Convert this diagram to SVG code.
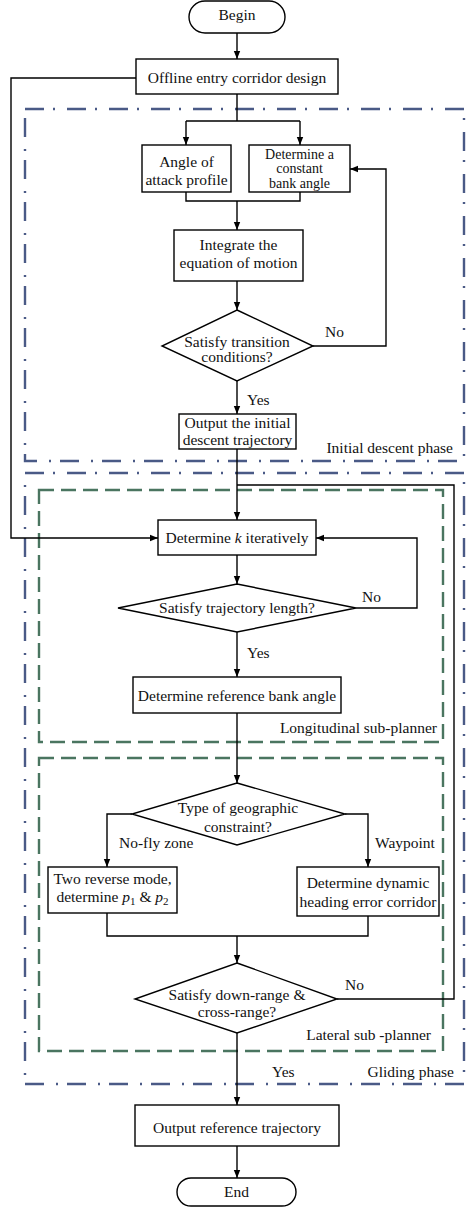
<svg xmlns="http://www.w3.org/2000/svg" width="474" height="1218" viewBox="0 0 474 1218">
<defs>
<marker id="ah" viewBox="0 0 10 10" refX="10" refY="5" markerWidth="8" markerHeight="8" markerUnits="userSpaceOnUse" orient="auto">
<path d="M0,1 L10,5 L0,9 z" fill="#000"/>
</marker>
<style>
.n{fill:#fff;stroke:#000;stroke-width:1.4}
.t{font-family:"Liberation Serif","Times New Roman",serif;font-size:15.5px;fill:#111;text-anchor:middle}
.s{font-size:14px}
.l{font-family:"Liberation Serif","Times New Roman",serif;font-size:15.5px;fill:#111}
.c{fill:none;stroke:#000;stroke-width:1.4}
.a{marker-end:url(#ah)}
.blue{fill:none;stroke:#4a5a86;stroke-width:2.4;stroke-dasharray:19 9 2 12}
.green{fill:none;stroke:#4a7560;stroke-width:2.4;stroke-dasharray:15 7}
</style>
</defs>
<rect width="474" height="1218" fill="#fff"/>
<g id="regions">
<rect class="blue" x="25" y="109" width="439" height="352"/>
<rect class="blue" x="25" y="473" width="439" height="611"/>
<rect class="green" x="39" y="490" width="404" height="252"/>
<rect class="green" x="39" y="758" width="404" height="293"/>
<text class="l" x="453" y="453" text-anchor="end">Initial descent phase</text>
<text class="l" x="437" y="733" text-anchor="end">Longitudinal sub-planner</text>
<text class="l" x="431" y="1040" text-anchor="end">Lateral sub -planner</text>
<text class="l" x="454" y="1077" text-anchor="end">Gliding phase</text>
</g>
<g id="connectors">
<path class="c a" d="M237,33 V59"/>
<path class="c a" d="M136,78 H11 V538 H158"/>
<path class="c" d="M237,94 V121 M186,121 H300"/>
<path class="c a" d="M186,121 V145"/>
<path class="c a" d="M300,121 V145"/>
<path class="c" d="M186,192 V201 H300 V192"/>
<path class="c a" d="M237,201 V230"/>
<path class="c a" d="M237,281 V310"/>
<path class="c a" d="M313,346 H386 V169 H350"/>
<path class="c a" d="M237,381 V414"/>
<path class="c a" d="M237,449 V520"/>
<path class="c" d="M337,999 H454 V485 H237"/>
<path class="c a" d="M237,555 V584"/>
<path class="c a" d="M356,608 H417 V538 H316"/>
<path class="c a" d="M237,632 V677"/>
<path class="c a" d="M237,713 V783"/>
<path class="c a" d="M132,814 H107 V867"/>
<path class="c a" d="M345,814 H368 V867"/>
<path class="c" d="M107,913 V936 H368 V916"/>
<path class="c a" d="M237,936 V963"/>
<path class="c a" d="M237,1033 V1105"/>
<path class="c a" d="M237,1146 V1178"/>
<text class="l" x="325" y="337">No</text>
<text class="l" x="247" y="405">Yes</text>
<text class="l" x="362" y="602">No</text>
<text class="l" x="247" y="658">Yes</text>
<text class="l" x="119" y="848">No-fly zone</text>
<text class="l" x="375" y="848">Waypoint</text>
<text class="l" x="345" y="990">No</text>
<text class="l" x="272" y="1077">Yes</text>
</g>
<g id="begin"><rect class="n" x="189" y="1" width="96" height="32" rx="16"/><text class="t" x="237" y="20">Begin</text></g>
<g id="offline"><rect class="n" x="136" y="59" width="202" height="35"/><text class="t" x="237" y="83">Offline entry corridor design</text></g>
<g id="aoa"><rect class="n" x="142" y="145" width="89" height="47"/><text class="t" x="186.5" y="167">Angle of</text><text class="t" x="186.5" y="185">attack profile</text></g>
<g id="bank"><rect class="n" x="249" y="145" width="101" height="47"/><text class="t s" x="299.5" y="158.5">Determine a</text><text class="t s" x="299.5" y="173">constant</text><text class="t s" x="299.5" y="187.5">bank angle</text></g>
<g id="integrate"><rect class="n" x="174" y="230" width="129" height="51"/><text class="t" x="238.5" y="250">Integrate the</text><text class="t" x="238.5" y="268">equation of motion</text></g>
<g id="dec1"><polygon class="n" points="237,310 313,346 237,381 162,346"/><text class="t" x="237" y="347">Satisfy transition</text><text class="t" x="237" y="362">conditions?</text></g>
<g id="outinit"><rect class="n" x="179" y="414" width="117" height="35"/><text class="t" x="237.5" y="428">Output the initial</text><text class="t" x="237.5" y="445">descent trajectory</text></g>
<g id="detk"><rect class="n" x="158" y="520" width="158" height="35"/><text class="t" x="237" y="543">Determine <tspan font-style="italic">k</tspan> iteratively</text></g>
<g id="dec2"><polygon class="n" points="237,584 356,608 237,632 118,608"/><text class="t" x="237" y="613">Satisfy trajectory length?</text></g>
<g id="refbank"><rect class="n" x="133" y="677" width="208" height="36"/><text class="t" x="237" y="701">Determine reference bank angle</text></g>
<g id="dec3"><polygon class="n" points="237,783 345,814 237,845 132,814"/><text class="t" x="238" y="813">Type of geographic</text><text class="t" x="238" y="832">constraint?</text></g>
<g id="tworev"><rect class="n" x="48" y="867" width="129" height="46"/><text class="t" x="112.5" y="884">Two reverse mode,</text><text class="t" x="112.5" y="902">determine <tspan font-style="italic">p</tspan><tspan font-size="11" dy="3">1</tspan><tspan dy="-3"> &amp; </tspan><tspan font-style="italic">p</tspan><tspan font-size="11" dy="3">2</tspan></text></g>
<g id="dyn"><rect class="n" x="297" y="867" width="142" height="49"/><text class="t" x="368" y="888">Determine dynamic</text><text class="t" x="368" y="907">heading error corridor</text></g>
<g id="dec4"><polygon class="n" points="237,963 337,999 237,1033 135,999"/><text class="t" x="237" y="1000">Satisfy down-range &amp;</text><text class="t" x="237" y="1017">cross-range?</text></g>
<g id="outref"><rect class="n" x="135" y="1105" width="204" height="41"/><text class="t" x="237" y="1133">Output reference trajectory</text></g>
<g id="end"><rect class="n" x="177" y="1178" width="119" height="28" rx="14"/><text class="t" x="236.5" y="1197">End</text></g>
</svg>
